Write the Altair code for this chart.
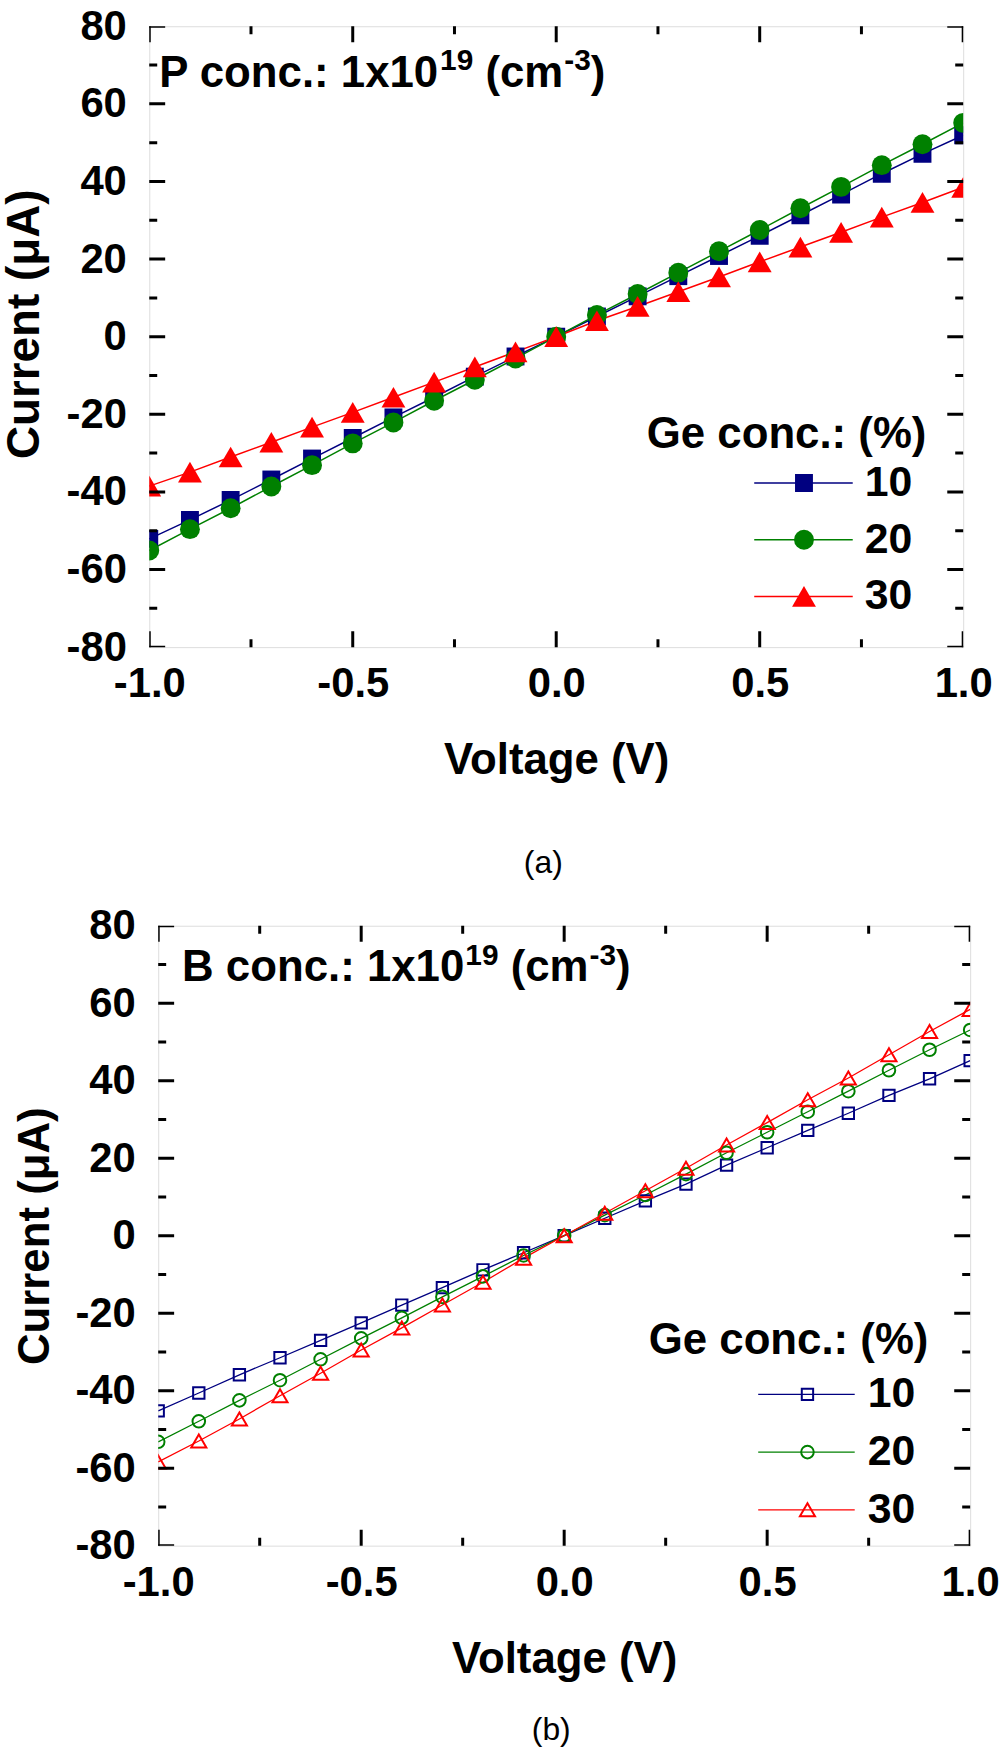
import altair as alt
import pandas as pd

# Bias sweep (V) shared by every curve
VOLTAGE = [-1.0, -0.9, -0.8, -0.7, -0.6, -0.5, -0.4, -0.3, -0.2, -0.1, 0.0,
           0.1, 0.2, 0.3, 0.4, 0.5, 0.6, 0.7, 0.8, 0.9, 1.0]
GE_LEVELS = ["10", "20", "30"]

# (a) P-doped, 1e19 cm^-3 : current in uA for Ge = 10, 20, 30 %
P_GE10 = [-52.1, -47.2, -42.1, -36.8, -31.4, -26.1, -20.8, -15.6, -10.3, -5.1, 0.0,
          5.2, 10.4, 15.6, 20.8, 26.0, 31.3, 36.6, 42.0, 47.1, 51.9]
P_GE20 = [-55.1, -49.6, -44.2, -38.6, -33.1, -27.5, -22.1, -16.5, -11.1, -5.6, 0.0,
          5.6, 11.0, 16.5, 22.0, 27.5, 33.1, 38.6, 44.2, 49.6, 55.1]
P_GE30 = [-38.5, -34.9, -31.0, -27.2, -23.3, -19.5, -15.6, -11.7, -7.8, -3.9, 0.0,
          4.1, 7.8, 11.6, 15.4, 19.3, 23.1, 26.9, 30.8, 34.6, 38.5]

# (b) B-doped, 1e19 cm^-3 : current in uA for Ge = 10, 20, 30 %
B_GE10 = [-45.2, -40.6, -35.9, -31.5, -27.0, -22.5, -17.9, -13.4, -8.8, -4.4, 0.0,
          4.5, 9.0, 13.3, 18.2, 22.7, 27.2, 31.6, 36.2, 40.5, 45.2]
B_GE20 = [-53.2, -47.9, -42.5, -37.3, -31.9, -26.5, -21.2, -15.8, -10.5, -5.1, 0.0,
          5.3, 10.5, 15.9, 21.4, 26.7, 32.0, 37.3, 42.7, 48.0, 53.1]
B_GE30 = [-58.4, -53.0, -47.3, -41.3, -35.5, -29.5, -23.8, -17.9, -12.0, -5.8, 0.0,
          5.8, 11.6, 17.4, 23.4, 29.2, 35.1, 40.7, 46.7, 52.7, 58.4]

COLORS = ["#000080", "#008000", "#ff0000"]
SHAPES = ["square", "circle", "triangle-up"]

X_DOMAIN = [-1.0, 1.0]
Y_DOMAIN = [-80, 80]
X_MAJOR = [-1.0, -0.5, 0.0, 0.5, 1.0]
X_MINOR = [-0.75, -0.25, 0.25, 0.75]
Y_MAJOR = [-80, -60, -40, -20, 0, 20, 40, 60, 80]
Y_MINOR = [-70, -50, -30, -10, 10, 30, 50, 70]

FONT = "Liberation Sans"
LEGEND_TITLE = "Ge conc.: (%)"

# Arial-bold advance widths (em) used to place the superscripts
ADVANCE = {"P": 0.667, "B": 0.722, " ": 0.278, "c": 0.556, "o": 0.611, "n": 0.611,
           ".": 0.278, ":": 0.333, "1": 0.556, "x": 0.556, "0": 0.556, "9": 0.556,
           "(": 0.333, "m": 0.889, "-": 0.333, "3": 0.556, ")": 0.333}


def text_width(s, size):
    return sum(ADVANCE[ch] for ch in s) * size


def long_table(series):
    rows = []
    for ge, values in zip(GE_LEVELS, series):
        for v, i in zip(VOLTAGE, values):
            rows.append({"V": v, "I": i, "Ge": ge})
    return pd.DataFrame(rows)


def edge_table(values, edges):
    return pd.DataFrame([{"t": t, "e": e} for t in values for e in edges])


def signed(fmt):
    return (f"datum.value < 0 ? '-' + format(-datum.value, '{fmt}') "
            f": format(datum.value, '{fmt}')")


def label(txt, x, y, size, weight="bold"):
    return alt.Chart(pd.DataFrame({"s": [txt]})).mark_text(
        align="left", baseline="alphabetic", font=FONT, fontSize=size,
        fontWeight=weight, color="black").encode(
        text="s:N", x=alt.value(x), y=alt.value(y))


def panel(series, dopant, filled, sizes, line_w, marker_w, width, height,
          leg, note_x, note_y, ytitle_size, ytitle_y, caption, caption_offset):
    df = long_table(series)
    xs = alt.Scale(domain=X_DOMAIN, nice=False, zero=False)
    ys = alt.Scale(domain=Y_DOMAIN, nice=False, zero=False)

    x_axis = alt.Axis(values=X_MAJOR, labelExpr=signed(".1f"), ticks=False, tickSize=0,
                      domain=False, grid=False, labelFont=FONT, labelFontSize=42,
                      labelFontWeight="bold", labelColor="black", labelPadding=17,
                      labelFlush=False, labelOverlap=False, title="Voltage (V)",
                      titleFont=FONT, titleFontSize=44, titleFontWeight="bold",
                      titleColor="black", titlePadding=34)
    y_axis = alt.Axis(values=Y_MAJOR, labelExpr=signed("d"), ticks=False, tickSize=0,
                      domain=False, grid=False, labelFont=FONT, labelFontSize=42,
                      labelFontWeight="bold", labelColor="black", labelPadding=23,
                      labelFlush=False, labelOverlap=False, title="Current (μA)",
                      titleFont=FONT, titleFontSize=ytitle_size, titleFontWeight="bold",
                      titleColor="black", titlePadding=18, titleY=ytitle_y)

    common = dict(orient="none", legendY=leg["ly"], padding=0, offset=0, title=None,
                  labelFont=FONT, labelFontSize=43, labelFontWeight="bold",
                  labelColor="black", clipHeight=43, rowPadding=leg["rp"])
    # line legend carries the visible labels; the marker legend only draws
    # the symbols on top of the line segments
    line_legend = alt.Legend(
        legendX=leg["lx"], labelOffset=leg["lo"], symbolType="stroke",
        symbolSize=leg["len"] ** 2, symbolStrokeWidth=line_w, **common)
    marker_kw = dict(legendX=leg["mx"], labelExpr="''", labelOpacity=0, **common)
    if not filled:
        marker_kw["symbolStrokeWidth"] = marker_w
    marker_legend = alt.Legend(**marker_kw)

    lines = alt.Chart(df).mark_line(strokeWidth=line_w, clip=True).encode(
        x=alt.X("V:Q", scale=xs, axis=x_axis),
        y=alt.Y("I:Q", scale=ys, axis=y_axis),
        color=alt.Color("Ge:N", scale=alt.Scale(domain=GE_LEVELS, range=COLORS),
                        legend=line_legend),
    )
    point_kw = dict(filled=filled, opacity=1, clip=True)
    if not filled:
        point_kw["strokeWidth"] = marker_w
    points = alt.Chart(df).mark_point(**point_kw).encode(
        x=alt.X("V:Q", scale=xs),
        y=alt.Y("I:Q", scale=ys),
        color=alt.Color("Ge:N", scale=alt.Scale(domain=GE_LEVELS, range=COLORS),
                        legend=marker_legend),
        shape=alt.Shape("Ge:N", scale=alt.Scale(domain=GE_LEVELS, range=SHAPES),
                        legend=marker_legend),
        size=alt.Size("Ge:N", scale=alt.Scale(type="ordinal", domain=GE_LEVELS,
                                              range=sizes),
                      legend=marker_legend),
    )

    # inward ticks on all four sides (half of each tick is clipped away)
    def xticks(values, length):
        return alt.Chart(edge_table(values, Y_DOMAIN)).mark_tick(
            orient="vertical", size=2 * length, thickness=3, color="black",
            opacity=1, clip=True).encode(x=alt.X("t:Q", scale=xs), y=alt.Y("e:Q", scale=ys))

    def yticks(values, length):
        return alt.Chart(edge_table(values, X_DOMAIN)).mark_tick(
            orient="horizontal", size=2 * length, thickness=3, color="black",
            opacity=1, clip=True).encode(x=alt.X("e:Q", scale=xs), y=alt.Y("t:Q", scale=ys))

    # "<dopant> conc.: 1x10^19 (cm^-3)" label with raised exponents
    pieces = [(f"{dopant} conc.: 1x10", 44, 0, 0), ("19", 30, -17, 1),
              ("(cm", 44, 0, text_width(" ", 44)), ("-3", 30, -17, 1), (")", 44, 0, 0)]
    notes = []
    cursor = note_x
    for txt, fs, rise, gap in pieces:
        cursor += gap
        notes.append(label(txt, cursor, note_y + rise, fs))
        cursor += text_width(txt, fs)
    notes.append(label(LEGEND_TITLE, leg["tx"], leg["ty"], 44))

    return alt.layer(
        lines, points, xticks(X_MAJOR, 16), xticks(X_MINOR, 8),
        yticks(Y_MAJOR, 16), yticks(Y_MINOR, 8), *notes
    ).resolve_scale(
        color="independent", shape="independent", size="independent"
    ).properties(
        width=width, height=height,
        title=alt.TitleParams(text=caption, orient="bottom", anchor="middle", frame="group",
                              dx=-13, offset=caption_offset, font=FONT, fontSize=32,
                              fontWeight="normal", color="black"),
    )


panel_a = panel([P_GE10, P_GE20, P_GE30], "P", True, [324, 400, 576], 1.5, 0, 818, 624,
                dict(lx=607, ly=437.5, rp=13, len=99, lo=11, mx=636.5, tx=500, ty=424),
                10, 61, 46, 299, "(a)", 66)
panel_b = panel([B_GE10, B_GE20, B_GE30], "B", False, [130, 160, 230], 1.3, 2, 816, 623,
                dict(lx=602, ly=449.5, rp=14, len=97, lo=12, mx=631, tx=493, ty=430),
                24, 56, 44, 311.5, "(b)", 34)

spacer = alt.Chart(pd.DataFrame({"s": [0]})).mark_point(opacity=0).properties(
    width=9, height=10, view=alt.ViewBackground(strokeOpacity=0))

lower = alt.hconcat(spacer, panel_b, spacing=0, bounds="flush").resolve_scale(
    color="independent", shape="independent", size="independent")

chart = alt.vconcat(panel_a, lower, spacing=280, bounds="flush").resolve_scale(
    color="independent", shape="independent", size="independent"
).properties(
    padding={"left": 0, "top": 0, "right": 0, "bottom": 0}, background="white"
).configure_view(stroke="black", strokeWidth=3).configure(font=FONT)

chart.save("out.html", embed_options={"renderer": "svg", "actions": False})
